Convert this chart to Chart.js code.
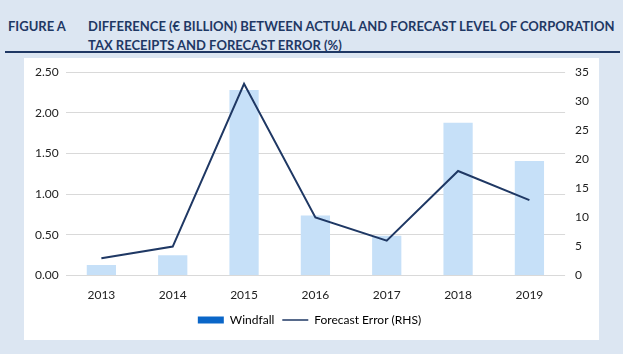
<!DOCTYPE html>
<html>
<head>
<meta charset="utf-8">
<script src="https://cdn.jsdelivr.net/npm/chart.js@4/dist/chart.umd.min.js"></script>
<style>
  body { margin: 0; width: 623px; height: 354px; background: #dce6f2; position: relative; overflow: hidden; font-family: Lato, sans-serif; }
  .title { position: absolute; top: 17px; color: #1f3864; font-weight: bold; font-size: 13px; line-height: 19px; }
  #fig { left: 8px; }
  #txt { left: 88px; width: 535px; white-space: nowrap; }
  .rule { position: absolute; left: 5px; top: 51px; width: 615px; height: 2px; background: #1f3864; }
  .box { position: absolute; left: 24px; top: 58px; width: 575px; height: 282px; background: #fff; }
</style>
</head>
<body>
<div class="title" id="fig">FIGURE A</div>
<div class="title" id="txt">DIFFERENCE (€ BILLION) BETWEEN ACTUAL AND FORECAST LEVEL OF CORPORATION<br>TAX RECEIPTS AND FORECAST ERROR (%)</div>
<div class="rule"></div>
<div class="box"><canvas id="chart" width="575" height="282"></canvas></div>
<script>
// datos del gráfico
const years = ['2013', '2014', '2015', '2016', '2017', '2018', '2019'];
const windfall = [0.13, 0.25, 2.28, 0.74, 0.49, 1.88, 1.41];
const forecastError = [3, 5, 33, 10, 6, 18, 13];

const ctx = document.getElementById('chart').getContext('2d');
const tickFont = { family: 'Lato', size: 12 };

new Chart(ctx, {
    type: 'bar',
    data: {
        labels: years,
        datasets: [{
            label: 'Windfall',
            data: windfall,
            backgroundColor: '#c6e0f8',
            yAxisID: 'y',
            barPercentage: 0.41,
            categoryPercentage: 1,
            order: 2
        }, {
            type: 'line',
            label: 'Forecast Error (RHS)',
            data: forecastError,
            borderColor: '#1f3864',
            borderWidth: 2,
            pointRadius: 0,
            tension: 0,
            yAxisID: 'y1',
            order: 1
        }]
    },
    options: {
        responsive: false,
        animation: false,
        layout: { padding: { left: 4, right: 8, top: 6, bottom: 4 } },
        plugins: {
            tooltip: { enabled: false },
            legend: {
                position: 'bottom',
                labels: {
                    font: { family: 'Lato', size: 12 },
                    color: '#222',
                    usePointStyle: true,
                    pointStyleWidth: 26,
                    boxHeight: 7,
                    padding: 8,
                    generateLabels: chart => [
                        { text: 'Windfall', fillStyle: '#0a66c8', strokeStyle: '#0a66c8', lineWidth: 0, pointStyle: 'rect', datasetIndex: 0 },
                        { text: 'Forecast Error (RHS)', fillStyle: '#1f3864', strokeStyle: '#1f3864', lineWidth: 1.5, pointStyle: 'line', datasetIndex: 1 }
                    ]
                }
            }
        },
        scales: {
            x: {
                grid: { display: false },
                border: { display: false },
                ticks: { font: tickFont, color: '#222', padding: 4 }
            },
            y: {
                position: 'left',
                min: 0, max: 2.5,
                ticks: { stepSize: 0.5, callback: v => v.toFixed(2), font: tickFont, color: '#222', padding: 7 },
                grid: { color: '#d9d9d9', drawTicks: false },
                border: { display: false }
            },
            y1: {
                position: 'right',
                min: 0, max: 35,
                ticks: { stepSize: 5, font: tickFont, color: '#222', padding: 2 },
                grid: { display: false },
                border: { display: false }
            }
        }
    }
});
</script>
</body>
</html>
